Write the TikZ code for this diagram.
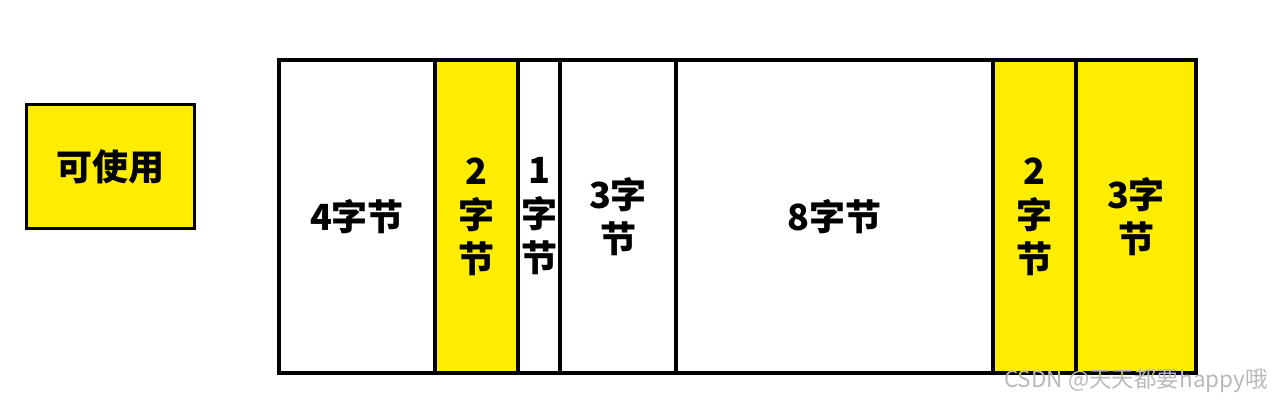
\documentclass[tikz,border=0pt]{standalone}
\usepackage{fontspec}
\usepackage{tikz}
\newfontfamily\cjk{Noto Sans CJK SC}
\definecolor{memyellow}{RGB}{255,237,0}

\begin{document}
\begin{tikzpicture}[x=1pt,y=-1pt,
    cell/.style={draw, line width=3.2pt, inner sep=0pt},
    lbl/.style={align=center, inner sep=0pt, font=\cjk\bfseries\fontsize{36}{44}\selectfont}]
    \useasboundingbox (0,0) rectangle (1272,403);
    \node[cell, lbl, fill=memyellow, minimum width=168pt, minimum height=124pt] (usable) at (110.5,166.5) {可使用};  %Legende
    \foreach \name/\xa/\xb/\col in  %Speicherbloecke
    {
      b4/279/435/white,
      b2/435/518/memyellow,
      b1/518/560/white,
      b3/560/676/white,
      b8/676/993/white,
      c2/993/1076/memyellow,
      c3/1076/1196/memyellow}
    {
      \pgfmathsetmacro\xmid{(\xa+\xb)/2}
      \pgfmathsetmacro\wid{\xb-\xa}
      \node[cell, fill=\col, minimum width=\wid pt, minimum height=313pt] (\name) at (\xmid,216.5) {};
    };
    \node[lbl] (t4) at (b4) {4字节};  %Beschriftung
    \node[lbl] (t2) at (b2) {2\\字\\节};
    \node[lbl] (t1) at (b1) {1\\字\\节};
    \node[lbl] (t3) at (b3) {3字\\节};
    \node[lbl] (t8) at (b8) {8字节};
    \node[lbl] (u2) at (c2) {2\\字\\节};
    \node[lbl] (u3) at (c3) {3字\\节};
    \node[text=gray!55, font=\cjk\fontsize{22.5}{22.5}\selectfont, anchor=east, inner sep=0pt] (mark) at (1268,381) {CSDN @天天都要happy哦};  %Wasserzeichen
\end{tikzpicture}
\end{document}
